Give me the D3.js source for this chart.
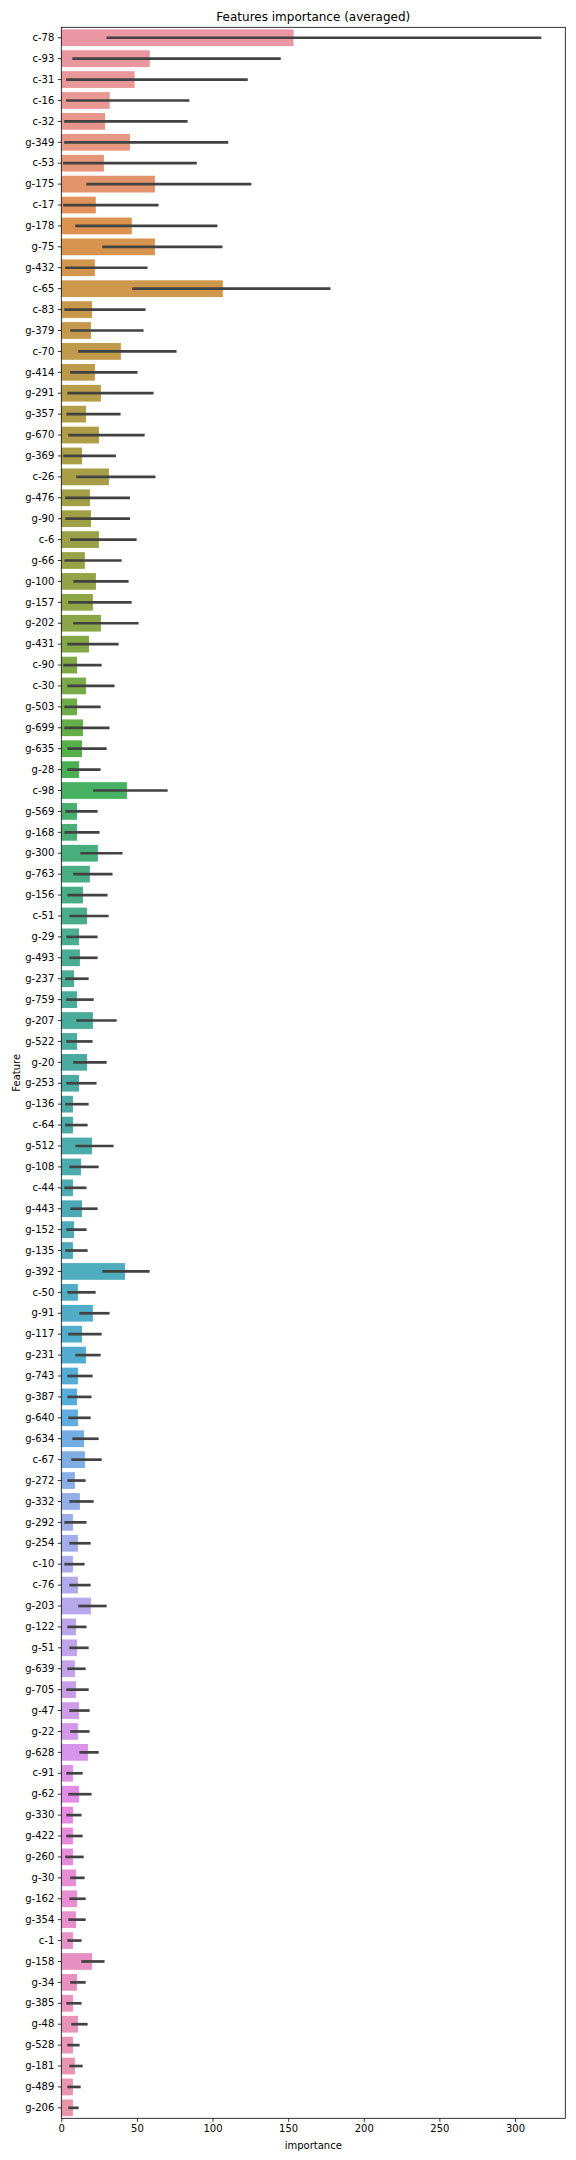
<!DOCTYPE html>
<html>
<head>
<meta charset="utf-8">
<script src="https://cdn.jsdelivr.net/npm/d3@7"></script>
<style>
  html, body { margin: 0; padding: 0; background: #fff; }
  svg { display: block; }
  text { font-family: "DejaVu Sans", sans-serif; fill: #000; }
</style>
</head>
<body>
<svg id="chart" width="576" height="2160"></svg>
<script>
// ---------------- data ----------------
const features = ["c-78","c-93","c-31","c-16","c-32","g-349","c-53","g-175","c-17","g-178",
  "g-75","g-432","c-65","c-83","g-379","c-70","g-414","g-291","g-357","g-670",
  "g-369","c-26","g-476","g-90","c-6","g-66","g-100","g-157","g-202","g-431",
  "c-90","c-30","g-503","g-699","g-635","g-28","c-98","g-569","g-168","g-300",
  "g-763","g-156","c-51","g-29","g-493","g-237","g-759","g-207","g-522","g-20",
  "g-253","g-136","c-64","g-512","g-108","c-44","g-443","g-152","g-135","g-392",
  "c-50","g-91","g-117","g-231","g-743","g-387","g-640","g-634","c-67","g-272",
  "g-332","g-292","g-254","c-10","c-76","g-203","g-122","g-51","g-639","g-705",
  "g-47","g-22","g-628","c-91","g-62","g-330","g-422","g-260","g-30","g-162",
  "g-354","c-1","g-158","g-34","g-385","g-48","g-528","g-181","g-489","g-206"];

const importance = [153.6,58.5,48.5,32.0,28.9,45.4,28.2,61.9,22.8,46.6,
  61.9,22.2,106.8,20.3,19.6,39.4,22.2,26.2,16.3,24.9,
  13.7,31.5,18.9,19.6,24.9,15.6,22.9,20.9,26.2,18.3,
  10.4,16.3,10.4,14.3,13.7,11.7,43.4,10.4,10.4,24.2,
  18.9,14.3,17.0,11.7,12.3,8.4,10.4,20.9,10.4,17.0,
  11.7,7.7,7.7,20.3,13.0,7.7,13.7,8.4,7.7,42.1,
  11.0,20.9,13.7,16.3,11.0,10.4,11.0,15.0,15.6,9.0,
  12.3,7.7,11.0,7.7,11.0,19.6,9.7,10.4,9.0,9.7,
  11.7,11.0,17.6,7.7,11.7,7.7,7.7,7.7,9.7,10.4,
  9.7,7.7,20.3,10.4,7.7,11.0,7.7,9.0,7.7,7.7];

const ciLow = [29.9,7.3,3.2,3.2,1.9,1.9,1.2,16.5,1.2,9.2,
  27.1,2.6,46.9,2.0,5.9,11.2,5.9,4.0,3.3,4.6,
  1.3,9.9,2.6,2.6,5.9,2.0,7.9,4.6,7.9,4.0,
  1.3,4.0,2.0,2.0,4.0,4.0,21.1,2.6,2.0,12.6,
  7.9,4.0,5.3,3.3,5.3,2.6,3.3,9.9,3.3,7.9,
  3.3,2.6,2.6,9.3,5.3,2.0,5.9,3.3,2.6,27.1,
  4.0,11.9,4.6,9.3,4.0,4.0,4.6,7.3,6.6,4.0,
  5.3,2.0,5.3,2.0,5.3,11.2,4.0,5.3,4.0,3.3,
  5.3,5.9,11.9,3.3,4.6,3.3,3.3,2.6,5.9,5.3,
  4.6,4.0,13.2,5.9,3.3,6.6,4.0,5.3,4.0,4.6];

const ciHigh = [317.4,145.1,123.3,84.7,83.5,110.4,89.6,125.7,64.3,103.2,
  106.6,57.0,178.0,55.7,54.4,76.2,50.4,61.0,39.2,55.1,
  36.1,62.3,45.4,45.4,49.8,39.9,44.5,46.5,51.1,37.9,
  26.7,35.2,26.0,31.9,30.0,26.0,70.3,24.0,25.3,40.5,
  33.9,30.6,31.3,24.0,24.0,18.1,21.4,36.6,20.7,30.0,
  23.3,18.1,17.4,34.6,24.7,16.7,24.0,16.7,17.4,58.4,
  22.7,31.9,26.7,26.0,20.7,20.0,19.4,24.7,26.7,16.1,
  21.4,16.7,19.4,15.4,19.4,30.0,16.7,18.1,16.1,18.1,
  18.7,18.7,24.7,14.1,20.0,13.4,14.1,14.8,15.4,16.1,
  16.1,13.4,28.6,16.1,13.4,17.4,12.1,14.1,12.8,11.5];

const xTicks = [0, 50, 100, 150, 200, 250, 300];
const titleText = "Features importance (averaged)";
const xLabel = "importance";
const yLabel = "Feature";

// ---------------- husl palette (seaborn) ----------------
const M = [[3.2406, -1.5372, -0.4986], [-0.9689, 1.8758, 0.0415], [0.0557, -0.2040, 1.0570]];
const refU = 0.19784, refV = 0.46834;
function maxChroma(L, H) {
  const hr = H * Math.PI / 180, sinH = Math.sin(hr), cosH = Math.cos(hr);
  const sub1 = Math.pow(L + 16, 3) / 1560896.0;
  const sub2 = sub1 > 0.008856 ? sub1 : L / 903.3;
  let result = Infinity;
  for (const [m1, m2, m3] of M) {
    const top = (0.99915 * m1 + 1.05122 * m2 + 1.14460 * m3) * sub2;
    const rb = 0.86330 * m3 - 0.17266 * m2;
    const lb = 0.12949 * m3 - 0.38848 * m1;
    const bottom = (rb * sinH + lb * cosH) * sub2;
    for (const t of [0, 1]) {
      const C = L * (top - 1.05122 * t) / (bottom + 0.17266 * sinH * t);
      if (C > 0 && C < result) result = C;
    }
  }
  return result;
}
function fInv(t) { return Math.pow(t, 3) > 0.008856 ? Math.pow(t, 3) : (116 * t - 16) / 903.3; }
function fromLinear(c) { return c <= 0.0031308 ? 12.92 * c : 1.055 * Math.pow(c, 1 / 2.4) - 0.055; }
function huslToRgb(H, S, L) {
  const C = maxChroma(L, H) / 100 * S;
  const hr = H * Math.PI / 180;
  const U = Math.cos(hr) * C, V = Math.sin(hr) * C;
  const varY = fInv((L + 16) / 116);
  const varU = U / (13 * L) + refU, varV = V / (13 * L) + refV;
  const Y = varY;
  const X = 0 - (9 * Y * varU) / ((varU - 4) * varV - varU * varV);
  const Z = (9 * Y - 15 * varV * Y - varV * X) / (3 * varV);
  return M.map(r => Math.min(1, Math.max(0, fromLinear(r[0] * X + r[1] * Y + r[2] * Z))));
}
function huslPalette(n, h = 0.01, s = 0.9, l = 0.7, desat = 0.75) {
  const out = [];
  for (let i = 0; i < n; i++) {
    const hue = ((i / n + h) % 1) * 359;
    const [r, g, b] = huslToRgb(hue, s * 99, l * 99);
    const c = d3.hsl(d3.rgb(r * 255, g * 255, b * 255));
    c.s *= desat;
    out.push(c.formatHex());
  }
  return out;
}

// ---------------- layout ----------------
const W = 576, H = 2160;
const margin = { left: 61.3, right: W - 565.3, top: 27.3, bottom: H - 2118.3 };
const pw = W - margin.left - margin.right, ph = H - margin.top - margin.bottom;

const svg = d3.select("#chart");
const g = svg.append("g").attr("transform", `translate(${margin.left},${margin.top})`);

const x = d3.scaleLinear().domain([0, d3.max(ciHigh) * 1.05]).range([0, pw]);
const y = d3.scaleBand().domain(features).range([0, ph]).paddingInner(0.2).paddingOuter(0.1);
const colors = huslPalette(features.length);

// bars
g.selectAll("rect.bar").data(features).join("rect")
  .attr("class", "bar")
  .attr("x", x(0))
  .attr("y", d => y(d))
  .attr("width", (d, i) => x(importance[i]) - x(0))
  .attr("height", y.bandwidth())
  .attr("fill", (d, i) => colors[i]);

// error bars
g.selectAll("line.err").data(features).join("line")
  .attr("class", "err")
  .attr("x1", (d, i) => x(ciLow[i]))
  .attr("x2", (d, i) => x(ciHigh[i]))
  .attr("y1", d => y(d) + y.bandwidth() / 2)
  .attr("y2", d => y(d) + y.bandwidth() / 2)
  .attr("stroke", "#424242")
  .attr("stroke-width", 2.7)
  .attr("stroke-linecap", "butt");

// axes
const xAxis = g.append("g").attr("transform", `translate(0,${ph})`)
  .call(d3.axisBottom(x).tickValues(xTicks).tickSize(3.5).tickPadding(3.5).tickSizeOuter(0));
const yAxis = g.append("g")
  .call(d3.axisLeft(y).tickSize(3.5).tickPadding(3.5).tickSizeOuter(0));
[xAxis, yAxis].forEach(a => {
  a.select(".domain").remove();
  a.selectAll(".tick line").attr("stroke", "#000").attr("stroke-width", 0.8);
  a.selectAll(".tick text").style("font-family", "DejaVu Sans").style("font-size", "10px").attr("fill", "#000");
});

// frame
g.append("rect").attr("x", 0).attr("y", 0).attr("width", pw).attr("height", ph)
  .attr("fill", "none").attr("stroke", "#000").attr("stroke-width", 0.8);

// title & labels
svg.append("text").attr("x", margin.left + pw / 2).attr("y", margin.top - 6)
  .attr("text-anchor", "middle").style("font-size", "12px").text(titleText);
svg.append("text").attr("x", margin.left + pw / 2).attr("y", 2149)
  .attr("text-anchor", "middle").style("font-size", "10px").text(xLabel);
svg.append("text").attr("transform", `translate(20,${margin.top + ph / 2}) rotate(-90)`)
  .attr("text-anchor", "middle").style("font-size", "10px").text(yLabel);
</script>
</body>
</html>
